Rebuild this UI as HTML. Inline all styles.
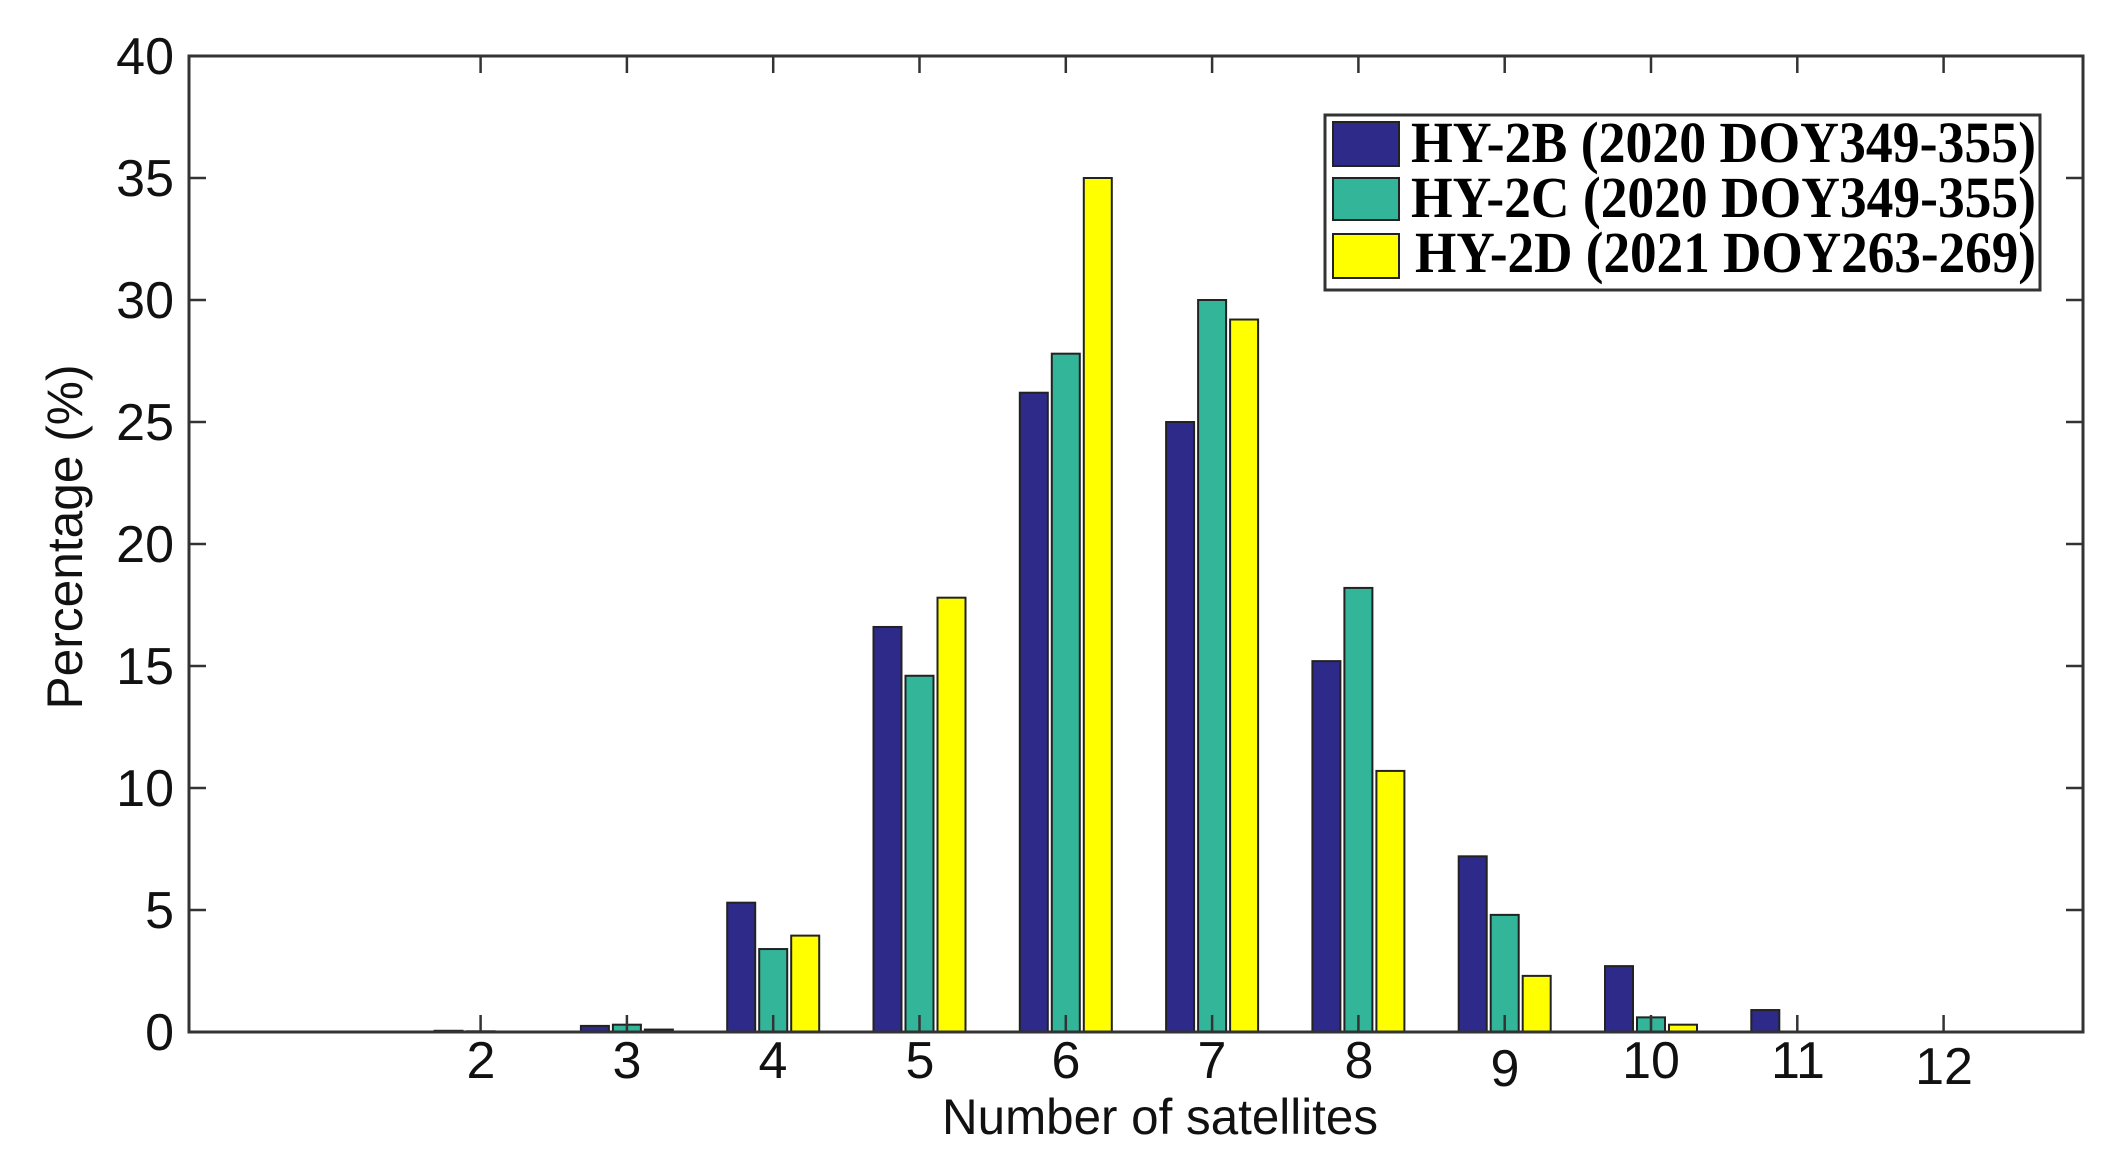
<!DOCTYPE html>
<html><head><meta charset="utf-8"><style>
html,body{margin:0;padding:0;background:#fff;}
svg{display:block;}
</style></head><body>
<svg width="2121" height="1166" viewBox="0 0 2121 1166" xmlns="http://www.w3.org/2000/svg">
<g font-family="Liberation Sans, sans-serif" fill="#111">
<g font-size="52" text-anchor="end">
<text x="174" y="74">40</text>
<text x="174" y="196">35</text>
<text x="174" y="318">30</text>
<text x="174" y="440">25</text>
<text x="174" y="562">20</text>
<text x="174" y="684">15</text>
<text x="174" y="806">10</text>
<text x="174" y="928">5</text>
<text x="174" y="1050">0</text>
</g>
<g font-size="52" text-anchor="middle">
<text x="481" y="1078">2</text>
<text x="627" y="1078">3</text>
<text x="773" y="1078">4</text>
<text x="920" y="1078">5</text>
<text x="1066" y="1078">6</text>
<text x="1212" y="1078">7</text>
<text x="1359" y="1078">8</text>
<text x="1505" y="1086">9</text>
<text x="1651" y="1078">10</text>
<text x="1798" y="1078">11</text>
<text x="1944" y="1084">12</text>
</g>
<text x="1160" y="1134" font-size="50" text-anchor="middle" textLength="436" lengthAdjust="spacingAndGlyphs">Number of satellites</text>
<text transform="translate(82,537) rotate(-90)" font-size="50" text-anchor="middle" textLength="345" lengthAdjust="spacingAndGlyphs">Percentage (%)</text>
</g>
<g id="bars" stroke="#222" stroke-width="2"></g>
<rect x="189" y="56" width="1894" height="976" fill="none" stroke="#333" stroke-width="3"/>
<g stroke="#333" stroke-width="2.5" id="ticks"></g>
<rect x="1325" y="115" width="715" height="175" fill="#fff" stroke="#333" stroke-width="3"/>
<rect x="1333" y="122" width="66" height="44" fill="#2e2a8a" stroke="#222" stroke-width="2"/>
<rect x="1333" y="178" width="66" height="42" fill="#33b59a" stroke="#222" stroke-width="2"/>
<rect x="1333" y="234" width="66" height="44" fill="#ffff00" stroke="#222" stroke-width="2"/>
<g font-family="Liberation Serif, serif" font-weight="bold" font-size="58" fill="#000">
<text x="1411" y="162" textLength="625" lengthAdjust="spacingAndGlyphs">HY-2B (2020 DOY349-355)</text>
<text x="1411" y="217" textLength="625" lengthAdjust="spacingAndGlyphs">HY-2C (2020 DOY349-355)</text>
<text x="1415" y="272" textLength="621" lengthAdjust="spacingAndGlyphs">HY-2D (2021 DOY263-269)</text>
</g>
<script>
(function(){
var ns="http://www.w3.org/2000/svg";
var x0=188,unit=146.3,y0=1032,yu=976/40;
var data={2:[0.05,0.03,0.02],3:[0.25,0.3,0.1],4:[5.3,3.4,3.95],5:[16.6,14.6,17.8],6:[26.2,27.8,35.0],7:[25.0,30.0,29.2],8:[15.2,18.2,10.7],9:[7.2,4.8,2.3],10:[2.7,0.6,0.3],11:[0.9,0,0]};
var cols=["#2e2a8a","#33b59a","#ffff00"],off=[-32,0,32],w=28;
var g=document.getElementById("bars");
for(var k in data){var cx=x0+k*unit;
for(var i=0;i<3;i++){var v=data[k][i];if(v<=0)continue;var h=v*yu;
var r=document.createElementNS(ns,"rect");r.setAttribute("x",cx+off[i]-w/2);r.setAttribute("y",y0-h);r.setAttribute("width",w);r.setAttribute("height",h);r.setAttribute("fill",cols[i]);g.appendChild(r);}}
var t=document.getElementById("ticks");
function L(a,b,c,d){var l=document.createElementNS(ns,"line");l.setAttribute("x1",a);l.setAttribute("y1",b);l.setAttribute("x2",c);l.setAttribute("y2",d);t.appendChild(l);}
for(var j=0;j<=8;j++){var y=y0-j*5*yu;L(189,y,206,y);L(2083,y,2066,y);}
for(var k=2;k<=12;k++){var x=x0+k*unit;L(x,1032,x,1015);L(x,56,x,73);}
})();
</script>
</svg>
</body></html>
